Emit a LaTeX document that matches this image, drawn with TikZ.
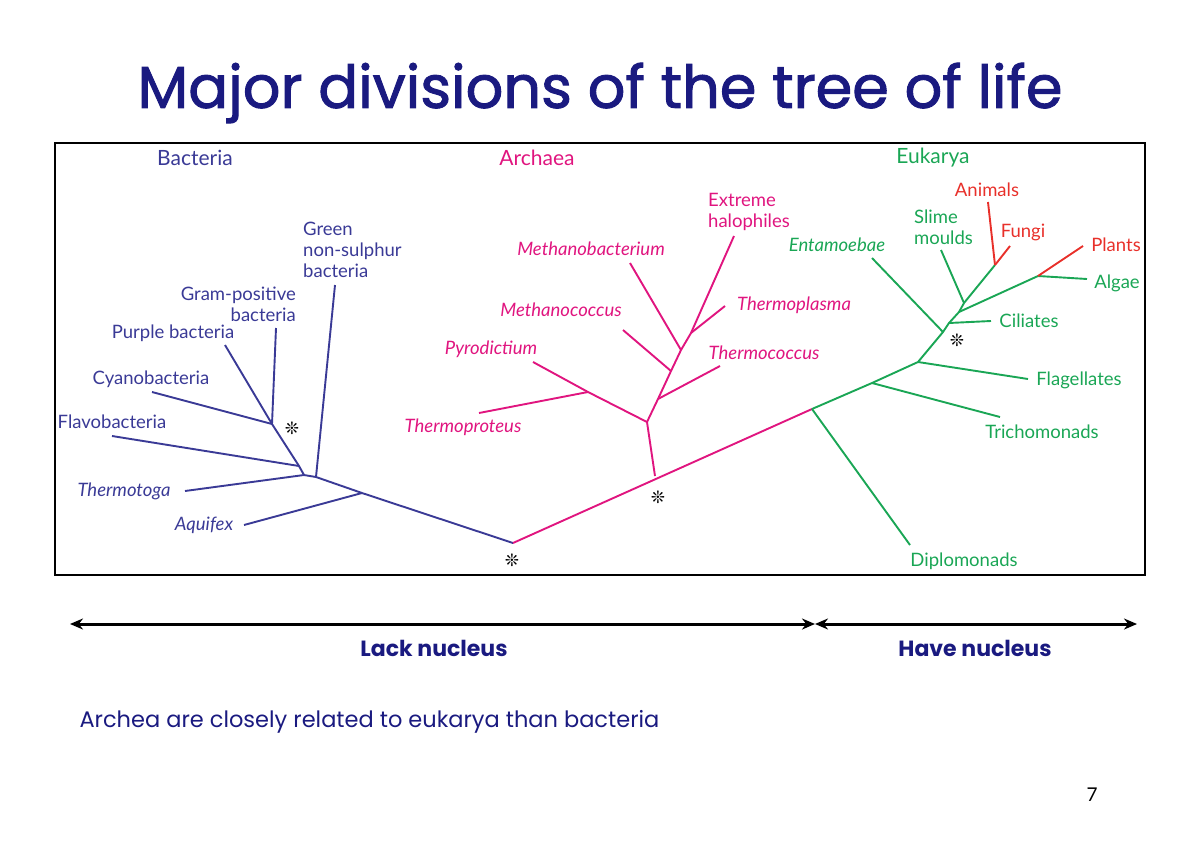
\documentclass[tikz,border=0pt]{standalone}
\usepackage{fontspec}
\setmainfont{Lato}
\newfontfamily\ttl{Poppins}
\newfontfamily\ttlb[FakeBold=1.6]{Poppins}
\newfontfamily\djv{DejaVu Sans}
\usetikzlibrary{arrows.meta}
\definecolor{bb}{HTML}{3A3A96}
\definecolor{pk}{HTML}{E0157F}
\definecolor{gr}{HTML}{1AA655}
\definecolor{rd}{HTML}{E8302A}
\definecolor{nv}{HTML}{1A1A80}
\tikzset{
 br/.style={line width=1.9pt},
 lb/.style={font=\fontsize{18.5}{21}\selectfont, inner sep=0pt},
 hd/.style={font=\fontsize{21}{24}\selectfont, inner sep=0pt},
 ast/.style={font=\djv\fontsize{17}{17}\selectfont, inner sep=0pt},
}
\begin{document}
\begin{tikzpicture}[x=1pt,y=-1pt]
\useasboundingbox (0,0) rectangle (1200,849);
\node[font=\ttlb\fontsize{59}{64}\selectfont, text=nv] (title) at (600,93) {Major divisions of the tree of life};
\node[draw=black, line width=1.4pt, minimum width=1090, minimum height=432, inner sep=0pt] (frame) at (600,359) {};
% coordinates
\coordinate (R) at (513,543);
\coordinate (A1) at (362,493); \coordinate (Aq) at (244,525);
\coordinate (N2) at (316,477); \coordinate (Gn) at (335,285);
\coordinate (N3) at (304,475); \coordinate (Tt) at (185,491);
\coordinate (N4) at (299,466); \coordinate (Fl) at (112,436);
\coordinate (N5) at (272,424); \coordinate (Cy) at (152,392);
\coordinate (Gp) at (276,328); \coordinate (Pu) at (225,345);
\coordinate (G0) at (812,409); \coordinate (P1) at (655,476);
\coordinate (P2) at (647,422); \coordinate (Q) at (588,392);
\coordinate (Py) at (533,362); \coordinate (Tp) at (479,413);
\coordinate (P3) at (658,399); \coordinate (Tc) at (720,366);
\coordinate (P4) at (671,371); \coordinate (Mc) at (623,330);
\coordinate (P5) at (681,350); \coordinate (Mb) at (630,263);
\coordinate (P6) at (691,333); \coordinate (Tpl) at (725,306);
\coordinate (Eh) at (734,236);
\coordinate (Di) at (910,545);
\coordinate (G1) at (872,383); \coordinate (Tr) at (1000,417);
\coordinate (G2) at (918,362); \coordinate (Fg) at (1028,379);
\coordinate (G3) at (943,332); \coordinate (En) at (872,258);
\coordinate (G4) at (949,323); \coordinate (Ci) at (991,321);
\coordinate (G5) at (959,312); \coordinate (G6) at (964,303);
\coordinate (Sm) at (941,250); \coordinate (G7) at (995,265);
\coordinate (An) at (988,202); \coordinate (Fu) at (1010,246);
\coordinate (G8) at (1038,276); \coordinate (Pl) at (1083,246);
\coordinate (Al) at (1087,279);
% bacteria
\draw[br,bb] (R) -- (A1) -- (N2) -- (N3) -- (N4) -- (N5) -- (Pu);
\draw[br,bb] (A1) -- (Aq); \draw[br,bb] (N2) -- (Gn); \draw[br,bb] (N3) -- (Tt);
\draw[br,bb] (N4) -- (Fl); \draw[br,bb] (N5) -- (Cy); \draw[br,bb] (N5) -- (Gp);
% archaea
\draw[br,pk] (R) -- (G0);
\draw[br,pk] (P1) -- (P2) -- (P3) -- (P4) -- (P5) -- (P6) -- (Eh);
\draw[br,pk] (P2) -- (Q) -- (Py); \draw[br,pk] (Q) -- (Tp);
\draw[br,pk] (P3) -- (Tc); \draw[br,pk] (P4) -- (Mc); \draw[br,pk] (P5) -- (Mb); \draw[br,pk] (P6) -- (Tpl);
% eukarya
\draw[br,gr] (G0) -- (G1) -- (G2) -- (G3) -- (G4) -- (G5) -- (G6) -- (G7);
\draw[br,gr] (G0) -- (Di); \draw[br,gr] (G1) -- (Tr); \draw[br,gr] (G2) -- (Fg);
\draw[br,gr] (G3) -- (En); \draw[br,gr] (G4) -- (Ci); \draw[br,gr] (G6) -- (Sm);
\draw[br,gr] (G5) -- (G8) -- (Al);
\draw[br,rd] (G7) -- (An); \draw[br,rd] (G7) -- (Fu); \draw[br,rd] (G8) -- (Pl);
% labels
\node[hd,text=bb] (lB) at (195,158) {Bacteria};
\node[hd,text=pk] (lA) at (537,158) {Archaea};
\node[hd,text=gr] (lE) at (933,158) {Eukarya};
\node[lb,text=bb,anchor=west,align=left] (tGn) at (303,250) {Green\\non-sulphur\\bacteria};
\node[lb,text=bb,anchor=east,align=right] (tGp) at (296,304) {Gram-positive\\bacteria};
\node[lb,text=bb] (tPu) at (173,333) {Purple bacteria};
\node[lb,text=bb] (tCy) at (151,379) {Cyanobacteria};
\node[lb,text=bb] (tFl) at (112,422) {Flavobacteria};
\node[lb,text=bb,font=\itshape\fontsize{18.5}{21}\selectfont] (tTt) at (124,491) {Thermotoga};
\node[lb,text=bb,font=\itshape\fontsize{18.5}{21}\selectfont] (tAq) at (204,525) {Aquifex};
\tikzset{pi/.style={lb,text=pk,font=\itshape\fontsize{18.5}{21}\selectfont}}
\node[pi] (tPy) at (491,349) {Pyrodictium};
\node[pi] (tTp) at (463,427) {Thermoproteus};
\node[pi] (tMc) at (561,310) {Methanococcus};
\node[pi] (tMb) at (591,249) {Methanobacterium};
\node[lb,text=pk,anchor=west,align=left] (tEh) at (708,212) {Extreme\\halophiles};
\node[pi] (tTpl) at (794,305) {Thermoplasma};
\node[pi] (tTc) at (764,353) {Thermococcus};
\node[lb,text=gr,font=\itshape\fontsize{18.5}{21}\selectfont] (tEn) at (837,245) {Entamoebae};
\node[lb,text=gr,anchor=west,align=left] (tSm) at (914,227) {Slime\\moulds};
\node[lb,text=rd] (tAn) at (987,190) {Animals};
\node[lb,text=rd] (tFu) at (1023,232) {Fungi};
\node[lb,text=rd] (tPl) at (1116,245) {Plants};
\node[lb,text=gr] (tAl) at (1117,283) {Algae};
\node[lb,text=gr] (tCi) at (1029,321) {Ciliates};
\node[lb,text=gr] (tFg) at (1079,380) {Flagellates};
\node[lb,text=gr] (tTr) at (1042,432) {Trichomonads};
\node[lb,text=gr] (tDi) at (964,561) {Diplomonads};
\node[ast] (s1) at (292,428) {❊};
\node[ast] (s2) at (512,560) {❊};
\node[ast] (s3) at (658,497) {❊};
\node[ast] (s4) at (957,340) {❊};
% arrows
\coordinate (L) at (70,624); \coordinate (M) at (815,624); \coordinate (Rr) at (1137,624);
\draw[line width=3pt,{Stealth[length=13pt,width=11pt]}-{Stealth[length=13pt,width=11pt]}] (L) -- (M);
\draw[line width=3pt,{Stealth[length=13pt,width=11pt]}-{Stealth[length=13pt,width=11pt]}] (M) -- (Rr);
\node[font=\ttl\bfseries\fontsize{22}{26}\selectfont, text=nv] (ln) at (434,648) {Lack nucleus};
\node[font=\ttl\bfseries\fontsize{22}{26}\selectfont, text=nv] (hn) at (975,648) {Have nucleus};
\node[font=\ttl\fontsize{22.5}{26}\selectfont, text=nv, anchor=west] (note) at (76,722) {Archea are closely related to eukarya than bacteria};
\node[font=\fontsize{19}{22}\selectfont] (pg) at (1092,795) {7};
\end{tikzpicture}
\end{document}
